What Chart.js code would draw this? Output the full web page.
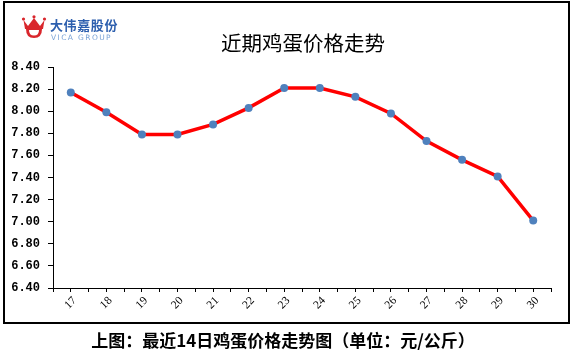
<!DOCTYPE html>
<html>
<head>
<meta charset="utf-8">
<script src="https://cdn.jsdelivr.net/npm/chart.js@4/dist/chart.umd.min.js"></script>
<style>
  html, body { margin: 0; padding: 0; background: #fff; }
  #wrap { position: relative; width: 574px; height: 360px; overflow: hidden; }
  #frame { position: absolute; left: 3px; top: 1px; width: 567px; height: 323px; box-sizing: border-box; border: 2.5px solid #000; }
  #c { position: absolute; left: 0; top: 0; }
  #title { position: absolute; left: 203px; width: 200px; top: 28px; text-align: center; font: 20.5px "Noto Sans CJK SC"; color: #000; line-height: 28px; white-space: nowrap; }
  #logo { position: absolute; left: 21px; top: 15px; }
  #logo .cn { position: absolute; left: 29px; top: 1px; font: bold 13px "Noto Sans CJK SC"; color: #2d5fae; white-space: nowrap; letter-spacing: 0.6px; line-height: 18px; }
  #logo .en { position: absolute; left: 30px; top: 18.5px; font: 7.5px "DejaVu Sans"; color: #7aa3d6; white-space: nowrap; letter-spacing: 1.4px; line-height: 8px; }
  #caption { position: absolute; left: 0; width: 566px; top: 327px; text-align: center; font: bold 17px "Noto Sans CJK SC"; color: #000; line-height: 26px; }
</style>
</head>
<body>
<div id="wrap">
  <div id="frame"></div>
  <canvas id="c" width="574" height="360"></canvas>
  <div id="title"></div>
  <div id="logo">
    <svg width="26" height="24" viewBox="0 0 26 24" style="position:absolute;left:0;top:0">
      <circle cx="2.5" cy="4" r="1.6" fill="#d9262c"/>
      <circle cx="13" cy="1.8" r="1.6" fill="#d9262c"/>
      <circle cx="23.5" cy="4" r="1.6" fill="#d9262c"/>
      <path d="M2.5 5 L7 11 L13 3 L19 11 L23.5 5 L22 14 L4 14 Z" fill="#d9262c"/>
      <path d="M5 14 Q5 23 13 23 Q21 23 21 14 Z" fill="#d9262c"/>
      <path d="M8 15 Q8 20.5 13 20.5 Q18 20.5 18 15 Z" fill="#fff"/>
    </svg>
    <span class="cn">大伟嘉股份</span>
    <span class="en">VICA GROUP</span>
  </div>
  <div id="caption">上图：最近14日鸡蛋价格走势图（单位：元/公斤）</div>
</div>
<script>
const categories = ['17','18','19','20','21','22','23','24','25','26','27','28','29','30'];
const prices = [8.17, 7.99, 7.79, 7.79, 7.88, 8.03, 8.21, 8.21, 8.13, 7.98, 7.73, 7.56, 7.41, 7.01];
const yTicks = ['6.40','6.60','6.80','7.00','7.20','7.40','7.60','7.80','8.00','8.20','8.40'];
const chartTitle = '近期鸡蛋价格走势';

document.getElementById('title').textContent = chartTitle;

const points = categories.map((c, i) => ({ x: Number(c), y: prices[i] }));
const firstCat = Number(categories[0]);
const lastCat = Number(categories[categories.length - 1]);

new Chart(document.getElementById('c'), {
  type: 'line',
  data: {
    datasets: [{
      data: points,
      borderColor: '#ff0000',
      borderWidth: 3.5,
      pointBackgroundColor: '#4f81bd',
      pointBorderColor: '#4f81bd',
      pointRadius: 4,
      pointBorderWidth: 0,
      tension: 0,
      fill: false
    }]
  },
  options: {
    responsive: false,
    animation: false,
    devicePixelRatio: 1,
    layout: { padding: { left: 8, right: 23, top: 67, bottom: 0 } },
    plugins: {
      legend: { display: false },
      tooltip: { enabled: false },
      title: { display: false }
    },
    scales: {
      x: {
        type: 'linear',
        min: firstCat - 0.5,
        max: lastCat + 0.5,
        afterBuildTicks: (scale) => {
          const t = [];
          for (let v = firstCat - 0.5; v <= lastCat + 0.5 + 1e-9; v += 0.5) t.push({ value: v });
          scale.ticks = t;
        },
        afterFit: (scale) => { scale.height = 72; },
        grid: { drawOnChartArea: false, drawTicks: true, tickLength: 4, color: '#000', lineWidth: 1 },
        border: { display: true, color: '#000', width: 1 },
        ticks: {
          autoSkip: false,
          minRotation: 45,
          maxRotation: 45,
          labelOffset: 4,
          padding: 2,
          color: '#000',
          font: { family: '"Liberation Serif"', size: 11.5 },
          callback: (v) => Number.isInteger(v) ? categories[v - firstCat] : ''
        }
      },
      y: {
        min: 6.4,
        max: 8.4,
        afterBuildTicks: (scale) => { scale.ticks = yTicks.map(s => ({ value: Number(s) })); },
        afterFit: (scale) => { scale.width = 45; },
        grid: { drawOnChartArea: false, drawTicks: true, tickLength: 5, color: '#000', lineWidth: 1 },
        border: { display: true, color: '#000', width: 1 },
        ticks: {
          padding: 8,
          color: '#000',
          font: { family: '"Liberation Mono"', size: 12, weight: 'bold' },
          callback: (v) => yTicks.find(s => Math.abs(Number(s) - v) < 1e-6) || ''
        }
      }
    }
  }
});
</script>
</body>
</html>
